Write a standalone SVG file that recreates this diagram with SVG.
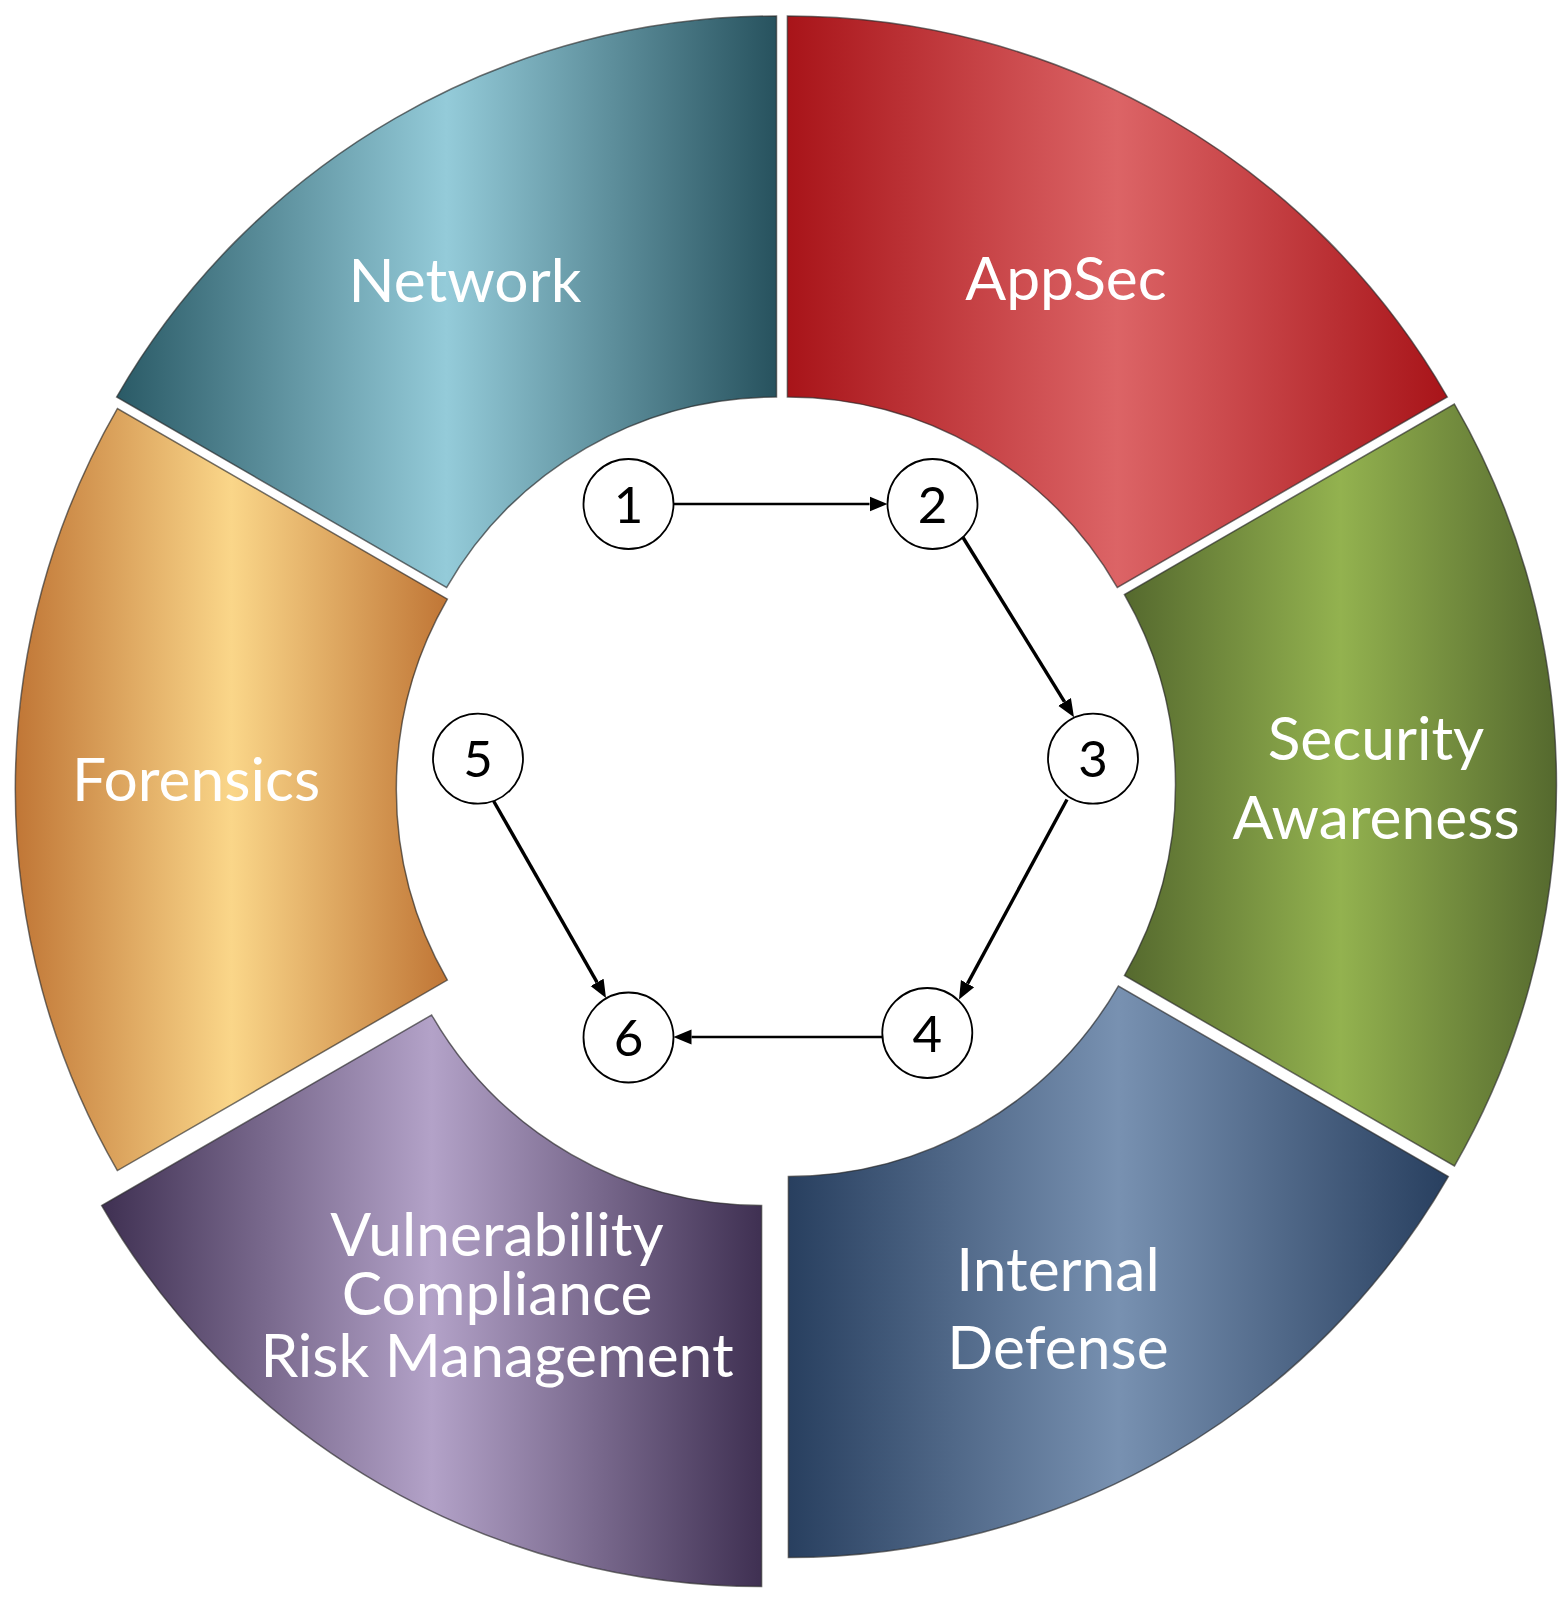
<svg xmlns="http://www.w3.org/2000/svg" width="1568" height="1600" viewBox="0 0 1568 1600">
  <style>
    .seg { stroke: #2a2a2a; stroke-opacity: 0.65; stroke-width: 1.5; }
    .lbl { font-family: Lato, "Open Sans", "Noto Sans", sans-serif; font-size: 60.5px; fill: #ffffff; text-anchor: middle; }
    .num { font-family: Lato, "Open Sans", "Noto Sans", sans-serif; font-size: 51px; fill: #000000; text-anchor: middle; }
    .node { fill: #ffffff; stroke: #000000; stroke-width: 1.8; }
    .conn { stroke: #000000; fill: none; }
    .thin { stroke-width: 2.4; }
    .thick { stroke-width: 3.4; }
  </style>
  <defs>
    <linearGradient id="gNet" x1="0" y1="0" x2="1" y2="0">
      <stop offset="0" stop-color="#2a5a66"/>
      <stop offset="0.5" stop-color="#94cbd9"/>
      <stop offset="1" stop-color="#27525e"/>
    </linearGradient>
    <linearGradient id="gApp" x1="0" y1="0" x2="1" y2="0">
      <stop offset="0" stop-color="#a81419"/>
      <stop offset="0.5" stop-color="#dc6466"/>
      <stop offset="1" stop-color="#a81419"/>
    </linearGradient>
    <linearGradient id="gSec" x1="0" y1="0" x2="1" y2="0">
      <stop offset="0" stop-color="#55692e"/>
      <stop offset="0.5" stop-color="#93b24f"/>
      <stop offset="1" stop-color="#55692e"/>
    </linearGradient>
    <linearGradient id="gInt" x1="0" y1="0" x2="1" y2="0">
      <stop offset="0" stop-color="#283f5f"/>
      <stop offset="0.5" stop-color="#7891b1"/>
      <stop offset="1" stop-color="#283f5f"/>
    </linearGradient>
    <linearGradient id="gVul" x1="0" y1="0" x2="1" y2="0">
      <stop offset="0" stop-color="#3f3052"/>
      <stop offset="0.5" stop-color="#b3a2c8"/>
      <stop offset="1" stop-color="#3f3052"/>
    </linearGradient>
    <linearGradient id="gFor" x1="0" y1="0" x2="1" y2="0">
      <stop offset="0" stop-color="#c07636"/>
      <stop offset="0.5" stop-color="#fad689"/>
      <stop offset="1" stop-color="#c07636"/>
    </linearGradient>
    <marker id="arrow" markerUnits="userSpaceOnUse" markerWidth="18" markerHeight="16" refX="0" refY="8" orient="auto">
      <path d="M0,0.5 L18,8 L0,15.5 Z" fill="#000000"/>
    </marker>
  </defs>
  <rect x="0" y="0" width="1568" height="1600" fill="#ffffff"/>

  <g id="seg-network">
    <path class="seg" fill="url(#gNet)" d="M 776.5 16 A 762 762 0 0 0 116.6 397 L 446.55 587.5 A 381 381 0 0 1 776.5 397 Z"/>
    <text class="lbl" x="465" y="302">Network</text>
  </g>
  <g id="seg-appsec">
    <path class="seg" fill="url(#gApp)" d="M 787.4 397 L 787.4 16 A 762 762 0 0 1 1447.3 397 L 1117.35 587.5 A 381 381 0 0 0 787.4 397 Z"/>
    <text class="lbl" x="1066" y="300">AppSec</text>
  </g>
  <g id="seg-security-awareness">
    <path class="seg" fill="url(#gSec)" d="M 1454.4 404 A 762 762 0 0 1 1454.4 1166 L 1124.45 975.5 A 381 381 0 0 0 1124.45 594.5 Z"/>
    <text class="lbl" x="1376" y="760">Security</text>
    <text class="lbl" x="1376" y="839">Awareness</text>
  </g>
  <g id="seg-internal-defense">
    <path class="seg" fill="url(#gInt)" d="M 788.4 1176.5 L 788.4 1557.5 A 762 762 0 0 0 1448.3 1176.5 L 1118.35 986 A 381 381 0 0 1 788.4 1176.5 Z"/>
    <text class="lbl" x="1058" y="1291">Internal</text>
    <text class="lbl" x="1058" y="1369">Defense</text>
  </g>
  <g id="seg-vulnerability">
    <path class="seg" fill="url(#gVul)" d="M 761.6 1205.5 L 761.6 1586.5 A 762 762 0 0 1 101.7 1205.5 L 431.65 1015 A 381 381 0 0 0 761.6 1205.5 Z"/>
    <text class="lbl" x="497" y="1256">Vulnerability</text>
    <text class="lbl" x="497" y="1315">Compliance</text>
    <text class="lbl" x="497" y="1377">Risk Management</text>
  </g>
  <g id="seg-forensics">
    <path class="seg" fill="url(#gFor)" d="M 447.35 599.1 L 117.4 408.6 A 762 762 0 0 0 117.4 1170.6 L 447.35 980.1 A 381 381 0 0 1 447.35 599.1 Z"/>
    <text class="lbl" x="196" y="801">Forensics</text>
  </g>

  <g id="connectors">
    <line class="conn thin" x1="673.5" y1="504" x2="869.5" y2="504" marker-end="url(#arrow)"/>
    <line class="conn thick" x1="963" y1="537.5" x2="1064.54" y2="701.92" marker-end="url(#arrow)"/>
    <line class="conn thick" x1="1067" y1="799.5" x2="967.55" y2="983.66" marker-end="url(#arrow)"/>
    <line class="conn thin" x1="882.3" y1="1037" x2="691.5" y2="1037" marker-end="url(#arrow)"/>
    <line class="conn thick" x1="493.3" y1="800.5" x2="597.08" y2="982.37" marker-end="url(#arrow)"/>
  </g>

  <g id="node-1">
    <circle class="node" cx="628.5" cy="504" r="45"/>
    <text class="num" x="628.5" y="522.5">1</text>
  </g>
  <g id="node-2">
    <circle class="node" cx="932.5" cy="504" r="45"/>
    <text class="num" x="932.5" y="522.5">2</text>
  </g>
  <g id="node-3">
    <circle class="node" cx="1093" cy="758.7" r="45"/>
    <text class="num" x="1093" y="777.2">3</text>
  </g>
  <g id="node-4">
    <circle class="node" cx="927.3" cy="1033" r="45"/>
    <text class="num" x="927.3" y="1051.5">4</text>
  </g>
  <g id="node-5">
    <circle class="node" cx="478" cy="758.7" r="45"/>
    <text class="num" x="478" y="777.2">5</text>
  </g>
  <g id="node-6">
    <circle class="node" cx="628.5" cy="1037.5" r="45"/>
    <text class="num" x="628.5" y="1056">6</text>
  </g>
</svg>
